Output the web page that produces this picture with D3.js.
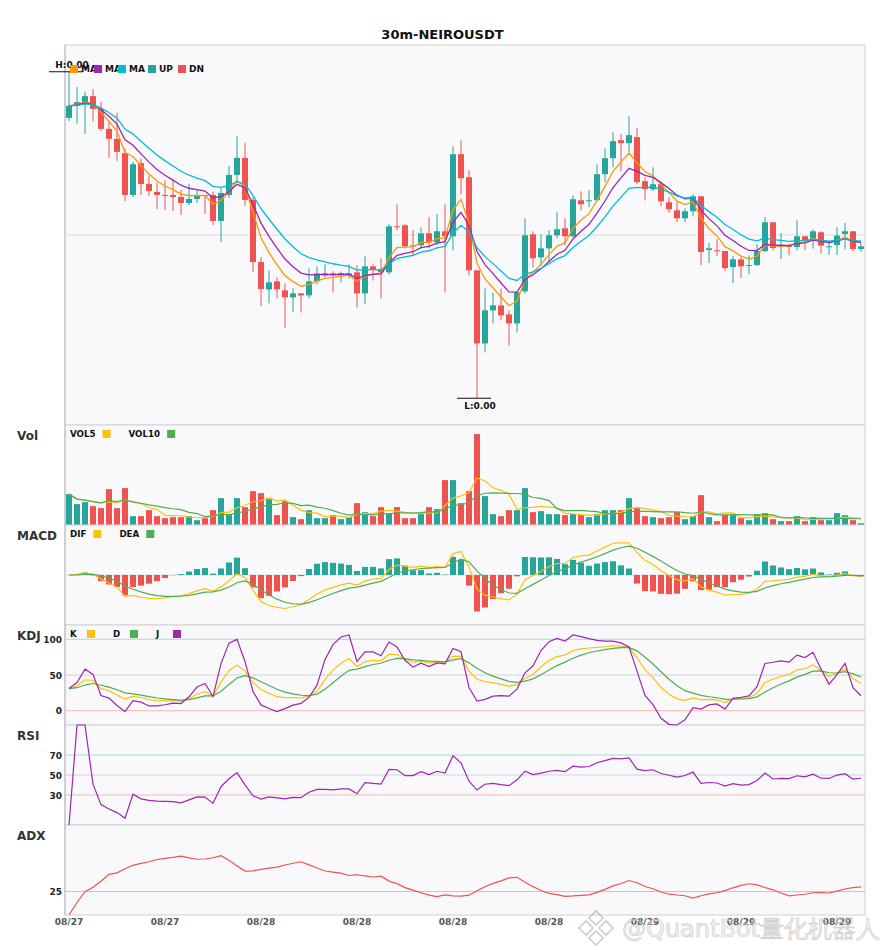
<!DOCTYPE html>
<html>
<head>
<meta charset="utf-8">
<script src="https://cdn.jsdelivr.net/npm/d3@7/dist/d3.min.js"></script>
<style>
  body { margin: 0; background: #fff; }
  svg { display: block; }
  text { font-family: "DejaVu Sans", sans-serif; }
</style>
</head>
<body>
<div id="chart"></div>
<script>
// 30m candles, prices quoted in micro-USDT (label prints them as 0.00)
const title = "30m-NEIROUSDT";
const PRICE_UNIT = 1e-6;

const open = [379.3,391.3,395,401,388.3,368.3,358.3,344,302.3,334,
  313.3,305.3,302.3,302.3,300.3,294.3,298.3,302.3,302.3,276.3,
  302.3,322.3,339.3,297.3,235.3,208,216,207,200,204,
  202,216,222,224,222,222,225,204,231,228,
  225,271,272,252,252,264,255,266,261,343,
  320,227,154,187,192,183,174,206,263,240,
  249,262,269,261,297,296,297,323,339,357,
  354,360,316,308,313,295,287,279,286,301,
  247.3,247,246.3,230.3,238,231.7,232.3,246.3,275,251,
  251.3,250.3,261,257,265,250.3,252.3,263.3,266,248.3];
const high = [425.3,410,405.3,408,395.3,375.3,384.3,348.7,335.3,338.7,
  322,314.7,317,316.3,307.3,313.3,307.3,302.3,305.3,309.3,
  331.3,361.3,354.3,300.3,240.3,227,220,214,209,204,
  229,231,233,226,226,233,232,241,233,239,
  273,293,273,267,270,280,283,293,351,357,
  327,227,209,205,209,187,205,279,266,263,
  267,285,279,302,306,307,333,349,365,363,
  381,369,320,330,314,300,295,289,303,301,
  254.3,258.3,246.3,241.3,240.3,242,253.3,280.3,275,264.3,
  253.7,277,261,268,266,256,270,274.3,266,254];
const low = [376,373.3,363.3,376,366.3,339.3,336.3,296.3,300.3,302.3,
  301.3,288.3,287.3,286.3,282.3,292.3,294.3,283.3,272.3,255.3,
  299.3,314.3,291.3,225.3,191.3,194,199,169.3,185,185,
  199,213,220,205,215,219,190,193,217,199,
  223,267,249,241,249,249,252,205,247,303,
  222,99.3,145,174,177,152,165,204,230,231,
  236,259,252,260,287,290,296,315,330,326,
  345,313,297,306,291,284.7,275,275,281,232.3,
  234.3,241.3,226.3,214.3,219.3,223.3,231.3,245,247,238.3,
  242,247,247.3,248.7,243.7,242.3,242.3,248,246.3,245.3];
const close = [391.3,395,401,388.3,368.3,358.3,345.3,302.3,333,313.3,
  306.3,302.3,301.3,300.3,294.3,298.3,302.3,301.3,276.3,304.3,
  322.3,339.3,297.3,235.3,208.3,215,208,200,204,202,
  216,224,224,222,224,224,204,231,228,225,
  271,270,251,251,264,255,266,261,343,319,
  227,154,187,192,182,174,205,262,239,249,
  262,268,261,298,293,297,323,339,356,354,
  362,315,308,313,296,288,279,286,301,245.3,
  249,246.3,229.3,238,231,232.3,246.3,275,249.3,251.7,
  250.7,261,257,266,251.7,251,261.7,266,248.3,251];
const volume = [91,61,67,55,49,106,49,109,25,25,
  43,25,19,22,22,25,13,19,43,79,
  31,79,52,100,94,76,28,70,22,16,
  43,19,19,28,16,22,64,37,25,52,
  34,52,19,19,34,52,46,133,133,64,
  100,271,85,31,25,43,43,109,37,40,
  31,31,28,31,28,22,31,43,43,43,
  79,49,25,22,19,22,37,16,25,88,
  22,10,28,28,19,13,31,34,16,10,
  10,25,10,22,13,13,34,28,13,4];

const xTickIdx = [0,12,24,36,48,60,72,84,96];
const xTickLabels = ["08/27","08/27","08/28","08/28","08/28","08/28","08/29","08/29","08/29"];

const maPeriods = [5, 8, 13];
const macdParams = [5, 13, 5];
const kdjTicks = [100, 50, 0];
const rsiTicks = [70, 50, 30];
const adxTicks = [25];

// ---------- indicators ----------
function ema(arr, n) {
  const a = 2 / (n + 1);
  let out = [], prev = arr[0];
  arr.forEach((v, i) => { prev = i === 0 ? v : prev + a * (v - prev); out.push(prev); });
  return out;
}
function sma(arr, n) {
  return arr.map((v, i) => d3.mean(arr.slice(Math.max(0, i - n + 1), i + 1)));
}

const n = close.length;
const idx = d3.range(n);
const maLines = maPeriods.map(p => ema(close, p));

const vol5 = sma(volume, 5), vol10 = sma(volume, 10);

const emaFast = ema(close, macdParams[0]), emaSlow = ema(close, macdParams[1]);
const dif = emaFast.map((v, i) => v - emaSlow[i]);
const dea = ema(dif, macdParams[2]);
const hist = dif.map((v, i) => 2 * (v - dea[i]));

let kArr = [], dArr = [], jArr = [];
idx.forEach(i => {
  const s = Math.max(0, i - 8);
  const hh = d3.max(high.slice(s, i + 1)), ll = d3.min(low.slice(s, i + 1));
  const rsv = hh === ll ? 50 : (close[i] - ll) / (hh - ll) * 100;
  const k = i === 0 ? rsv : (2 * kArr[i - 1] + rsv) / 3;
  const d = i === 0 ? k : (2 * dArr[i - 1] + k) / 3;
  kArr.push(k); dArr.push(d); jArr.push(3 * k - 2 * d);
});

// wilder-style smoothing from zero
let rsiArr = [];
(function () {
  let ag = 0, al = 0;
  idx.forEach(i => {
    const ch = i ? close[i] - close[i - 1] : 0;
    ag += (Math.max(ch, 0) - ag) / 14;
    al += (Math.max(-ch, 0) - al) / 14;
    rsiArr.push(ag + al === 0 ? 0 : 100 * ag / (ag + al));
  });
})();

let adxArr = [];
(function () {
  const a = 2 / 15;
  let sp = 0, sm = 0, adx = 0;
  idx.forEach(i => {
    let pdm = 0, mdm = 0;
    if (i > 0) {
      const up = high[i] - high[i - 1], dn = low[i - 1] - low[i];
      pdm = up > dn && up > 0 ? up : 0;
      mdm = dn > up && dn > 0 ? dn : 0;
    }
    sp += a * (pdm - sp); sm += a * (mdm - sm);
    const dx = sp + sm > 0 ? 100 * Math.abs(sp - sm) / (sp + sm) : 0;
    adx += a * (dx - adx);
    adxArr.push(adx);
  });
})();

// ---------- layout ----------
const W = 885, H = 950;
const left = 65, right = 865;
const panels = {
  main: [45, 425], vol: [425, 525], macd: [525, 625],
  kdj: [625, 725], rsi: [725, 825], adx: [825, 915]
};
const UP = "#26a69a", DN = "#ef5350";

const svg = d3.select("#chart").append("svg").attr("width", W).attr("height", H);

const x = d3.scaleBand().domain(idx).range([left, right]);
const cx = i => x(i) + x.bandwidth() / 2;
const bw = x.bandwidth() * 0.75;

svg.append("text").attr("x", W / 2).attr("y", 39).attr("text-anchor", "middle")
  .attr("font-size", 13).attr("font-weight", "bold").attr("fill", "#111").text(title);

// panel frames
Object.entries(panels).forEach(([key, [t, b]]) => {
  svg.append("rect").attr("x", left).attr("y", t).attr("width", right - left).attr("height", b - t)
    .attr("fill", "#f9f9fc").attr("stroke", "#cfcfd6").attr("stroke-width", 1);
});
svg.append("line").attr("x1", left).attr("x2", left).attr("y1", 45).attr("y2", 915)
  .attr("stroke", "#b8b8c0");

const panelNames = [["Vol", "vol"], ["MACD", "macd"], ["KDJ", "kdj"], ["RSI", "rsi"], ["ADX", "adx"]];
panelNames.forEach(([label, key]) => {
  svg.append("text").attr("x", 17).attr("y", panels[key][0] + 15)
    .attr("font-size", 12).attr("font-weight", "bold").attr("fill", "#333").text(label);
});

function lineOf(arr, yS, color, g, w) {
  g.append("path").datum(idx)
    .attr("d", d3.line().x(cx).y(i => yS(arr[i])))
    .attr("fill", "none").attr("stroke", color).attr("stroke-width", w || 1.2);
}

// ---------- main ----------
const lo = d3.min(low), hi = d3.max(high), pad = (hi - lo) * 0.082;
const yMain = d3.scaleLinear().domain([lo - pad, hi + pad]).range(panels.main.slice().reverse());
const gMain = svg.append("g");
gMain.append("line").attr("x1", left).attr("x2", right)
  .attr("y1", yMain((lo + hi) / 2)).attr("y2", yMain((lo + hi) / 2)).attr("stroke", "#dcdce0");

const candle = gMain.selectAll("g.c").data(idx).join("g")
  .attr("fill", i => close[i] >= open[i] ? UP : DN)
  .attr("stroke", i => close[i] >= open[i] ? UP : DN);
candle.append("line").attr("x1", cx).attr("x2", cx)
  .attr("y1", i => yMain(high[i])).attr("y2", i => yMain(low[i])).attr("stroke-width", 1);
candle.append("rect").attr("stroke", "none")
  .attr("x", i => cx(i) - bw / 2).attr("width", bw)
  .attr("y", i => yMain(Math.max(open[i], close[i])))
  .attr("height", i => Math.max(1, Math.abs(yMain(open[i]) - yMain(close[i]))));

const maColors = ["#ff9800", "#9c27b0", "#00bcd4"];
maLines.forEach((m, k) => lineOf(m, yMain, maColors[k], gMain, 1.3));

// high / low markers
const iHi = d3.maxIndex(high), iLo = d3.minIndex(low);
[[iHi, high[iHi], "H:", -4], [iLo, low[iLo], "L:", 11]].forEach(([i, v, tag, dy]) => {
  gMain.append("line").attr("x1", cx(i) - 20).attr("x2", cx(i) + 14)
    .attr("y1", yMain(v)).attr("y2", yMain(v)).attr("stroke", "#111").attr("stroke-width", 1.2);
  gMain.append("text").attr("x", cx(i) + 3).attr("y", yMain(v) + dy).attr("text-anchor", "middle")
    .attr("font-size", 9).attr("font-weight", "bold").attr("fill", "#111")
    .text(tag + (v * PRICE_UNIT).toFixed(2));
});

// main legend: swatch then label, fixed slots that overlap
const mainLegend = [["MA", maColors[0], 24], ["MA", maColors[1], 24], ["MA", maColors[2], 30], ["UP", UP, 30], ["DN", DN, 30]];
let lx = 70;
mainLegend.forEach(([lab, col, slot]) => {
  gMain.append("text").attr("x", lx + 11).attr("y", 72).attr("font-size", 9)
    .attr("font-weight", "bold").attr("fill", "#111").text(lab);
  gMain.append("rect").attr("x", lx).attr("y", 65).attr("width", 8).attr("height", 8).attr("fill", col);
  lx += slot;
});

function subLegend(items, top) {
  let px = 70;
  items.forEach(([lab, col]) => {
    const t = svg.append("text").attr("x", px).attr("y", top + 12).attr("font-size", 8.7)
      .attr("font-weight", "bold").attr("fill", "#111").text(lab);
    const off = Math.max(t.node().getComputedTextLength() + 7, 17);
    svg.append("rect").attr("x", px + off).attr("y", top + 5).attr("width", 8).attr("height", 8).attr("fill", col);
    px += off + 8 + 18;
  });
}

// ---------- volume ----------
const yVol = d3.scaleLinear().domain([0, d3.max(volume) * 1.1]).range([panels.vol[1] - 0.5, panels.vol[0]]);
const gVol = svg.append("g");
gVol.selectAll("rect").data(idx).join("rect")
  .attr("x", i => cx(i) - bw / 2).attr("width", bw)
  .attr("y", i => yVol(volume[i])).attr("height", i => yVol(0) - yVol(volume[i]))
  .attr("fill", i => close[i] >= open[i] ? UP : DN);
lineOf(vol5, yVol, "#ffc107", gVol);
lineOf(vol10, yVol, "#4caf50", gVol);
subLegend([["VOL5", "#ffc107"], ["VOL10", "#4caf50"]], panels.vol[0]);

// ---------- MACD ----------
const mAbs = d3.max([...dif, ...dea, ...hist].map(Math.abs)) * 1.37;
const yMacd = d3.scaleLinear().domain([-mAbs, mAbs]).range([panels.macd[1], panels.macd[0]]);
const gMacd = svg.append("g");
gMacd.append("line").attr("x1", left).attr("x2", right).attr("y1", yMacd(0)).attr("y2", yMacd(0))
  .attr("stroke", "#d6d6dc");
gMacd.selectAll("rect").data(idx).join("rect")
  .attr("x", i => cx(i) - bw / 2).attr("width", bw)
  .attr("y", i => yMacd(Math.max(0, hist[i])))
  .attr("height", i => Math.abs(yMacd(hist[i]) - yMacd(0)))
  .attr("fill", i => hist[i] >= 0 ? UP : DN);
lineOf(dif, yMacd, "#ffc107", gMacd);
lineOf(dea, yMacd, "#4caf50", gMacd);
subLegend([["DIF", "#ffc107"], ["DEA", "#4caf50"]], panels.macd[0]);

// ---------- reference-line panels ----------
function refPanel(key, domain, ticks, colors) {
  const y = d3.scaleLinear().domain(domain).range([panels[key][1], panels[key][0]]);
  const g = svg.append("g");
  ticks.forEach((t, k) => {
    g.append("line").attr("x1", left).attr("x2", right).attr("y1", y(t)).attr("y2", y(t))
      .attr("stroke", colors[k]).attr("stroke-width", 1);
    g.append("text").attr("x", 62).attr("y", y(t) + 3.5).attr("text-anchor", "end")
      .attr("font-size", 9).attr("font-weight", "bold").attr("fill", "#222").text(t);
  });
  return [y, g];
}
const [yKdj, gKdj] = refPanel("kdj", [-20, 120], kdjTicks, ["#a8dcd5", "#d2d2d8", "#f6b8b8"]);
lineOf(kArr, yKdj, "#ffc107", gKdj);
lineOf(dArr, yKdj, "#4caf50", gKdj);
lineOf(jArr, yKdj, "#9c27b0", gKdj);
subLegend([["K", "#ffc107"], ["D", "#4caf50"], ["J", "#9c27b0"]], panels.kdj[0]);

const [yRsi, gRsi] = refPanel("rsi", [0, 100], rsiTicks, ["#a8dcd5", "#d2d2d8", "#f6b8b8"]);
lineOf(rsiArr, yRsi, "#9c27b0", gRsi);

const [yAdx, gAdx] = refPanel("adx", [0, 96], adxTicks, ["#dcb0e4"]);
lineOf(adxArr, yAdx, "#ef5350", gAdx);

// ---------- x axis ----------
xTickIdx.forEach((i, k) => {
  svg.append("text").attr("x", cx(i)).attr("y", 925).attr("text-anchor", "middle")
    .attr("font-size", 9).attr("font-weight", "bold").attr("fill", "#555").text(xTickLabels[k]);
});

// watermark
const wm = svg.append("g").attr("opacity", 0.6);
[[596, 918], [606, 928], [596, 938], [586, 928]].forEach(([a, b]) => {
  wm.append("rect").attr("x", a - 5).attr("y", b - 5).attr("width", 10).attr("height", 10)
    .attr("transform", `rotate(45 ${a} ${b})`).attr("fill", "none").attr("stroke", "#aaa").attr("stroke-width", 1.5);
});
wm.append("text").attr("x", 622).attr("y", 937).attr("font-size", 24).attr("fill", "#eee")
  .attr("stroke", "#aaa").attr("stroke-width", 0.7)
  .attr("font-family", "'DejaVu Sans','Noto Sans CJK SC',sans-serif").text("@QuantBot量化机器人");
</script>
</body>
</html>
